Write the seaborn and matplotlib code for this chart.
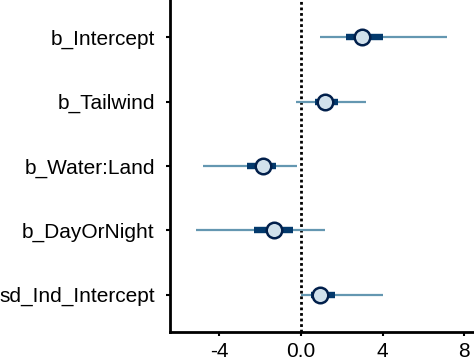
import matplotlib
matplotlib.use("Agg")
import matplotlib.pyplot as plt
import seaborn as sns
import pandas as pd

params = ["b_Intercept", "b_Tailwind", "b_Water:Land", "b_DayOrNight", "sd_Ind_Intercept"]
est = [3.0, 1.2, -1.85, -1.3, 0.95]
inner_lo = [2.2, 0.7, -2.65, -2.3, 0.5]
inner_hi = [4.0, 1.8, -1.2, -0.4, 1.65]
outer_lo = [0.93, -0.25, -4.82, -5.16, 0.0]
outer_hi = [7.17, 3.17, -0.2, 1.2, 4.03]
xticks = [-4, 0, 4, 8]
xtick_labels = ["-4", "0.0", "4", "8"]

df = pd.DataFrame({"param": params, "est": est,
                   "ilo": inner_lo, "ihi": inner_hi,
                   "olo": outer_lo, "ohi": outer_hi})
df["pos"] = range(len(df))

sns.set_theme(style="ticks")
plt.rcParams["font.family"] = ["Liberation Sans", "DejaVu Sans"]

fig = plt.figure(figsize=(4.74, 3.59), dpi=100)
ax = fig.add_axes([0.3586, 0.075, 0.6414, 0.925])

ax.axvline(0, color="black", lw=2, ls=(0, (1, 1)), zorder=1)
ax.hlines(df["pos"], df["olo"], df["ohi"], color="#6497b1", lw=1.6, zorder=2)
ax.hlines(df["pos"], df["ilo"], df["ihi"], color="#03396c", lw=4.6, zorder=3)
sns.scatterplot(data=df, x="est", y="pos", ax=ax, s=125, color="#d1e1ec",
                edgecolor="#011f4b", linewidth=1.8, zorder=4, legend=False)

ax.set_xlim(-6.42, 8.48)
ax.set_ylim(len(df) - 1 + 0.58, -0.58)
ax.set_yticks(df["pos"])
ax.set_yticklabels(params)
ax.set_xticks(xticks)
ax.set_xticklabels(xtick_labels)
ax.set_xlabel("")
ax.set_ylabel("")
ax.tick_params(axis="both", labelsize=15, length=3, width=1.5, colors="black")
ax.tick_params(axis="y", pad=8)
ax.tick_params(axis="x", pad=4)

sns.despine(ax=ax)
for s in ["left", "bottom"]:
    ax.spines[s].set_linewidth(2)
    ax.spines[s].set_color("black")

fig.savefig("out.png", dpi=100)
